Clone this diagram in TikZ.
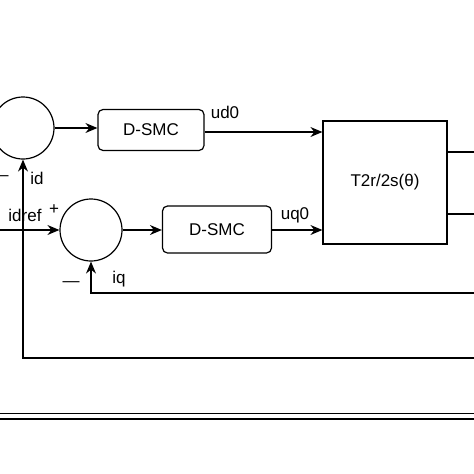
\documentclass[tikz,border=0pt]{standalone}
\usepackage{fontspec}
\setmainfont{Liberation Sans}
\usetikzlibrary{arrows.meta,positioning}

\begin{document}
\begin{tikzpicture}[x=1pt, y=-1pt, line width=1.2pt,
  >={Stealth[length=12pt,width=10pt,inset=4pt]},
  every node/.style={font=\fontsize{17}{20}\selectfont},
  sumnode/.style={draw, circle, minimum size=62pt, inner sep=0pt},
  ctrlbox/.style={draw, rounded corners=5pt, minimum width=106pt, minimum height=41pt},
  lbl/.style={inner sep=0pt}]
  \clip (0,0) rectangle (474,474);
  \fill[white] (0,0) rectangle (474,474);

  % summing points and blocks
  \node[sumnode] (sumd) at (23,128) {};
  \node[sumnode] (sumq) at (91,230) {};
  \node[ctrlbox] (smcd) at (151,130) {D-SMC};
  \node[ctrlbox, minimum width=109pt, minimum height=47pt] (smcq) at (217,229.5) {D-SMC};
  \node[draw, minimum width=124pt, minimum height=123pt] (trans) at (385,182.5) {T2r/2s(θ)};

  \coordinate (idin) at (0,230);
  \coordinate (outa) at (474,152);
  \coordinate (outb) at (474,214);
  \coordinate (fbq) at (474,293);
  \coordinate (fbd) at (474,358);
  \coordinate (rulel) at (0,416.3);
  \coordinate (ruler) at (474,416.3);

  % forward path
  \draw[->] (sumd.east) -- (sumd.east -| smcd.west);
  \draw[->] (sumq.east) -- (sumq.east -| smcq.west);
  \draw[->] (smcd.east |- 0,132) -- (trans.west |- 0,132);
  \draw[->] (smcq.east |- 0,230) -- (trans.west |- 0,230);
  \draw (trans.east |- outa) -- (outa);
  \draw (trans.east |- outb) -- (outb);
  \draw[->] (idin) -- (sumq.west);

  % feedback
  \draw[->] (fbq) -| (sumq.south);
  \draw[->] (fbd) -| (sumd.south);

  % labels
  \node[lbl] (ud) at (225,112) {ud0};
  \node[lbl] (uq) at (295,215) {uq0};
  \node[lbl] (idref) at (25,215) {idref};
  \node[lbl] (plus) at (54,210) {+};
  \node[lbl] (idl) at (37,178) {id};
  \node[lbl] (iql) at (119,279) {iq};
  \node[lbl] (mind) at (0,178) {—};
  \node[lbl] (minq) at (71,284) {—};

  \draw[double, double distance=4pt, line width=1.6pt] (rulel) -- (ruler);
\end{tikzpicture}
\end{document}
